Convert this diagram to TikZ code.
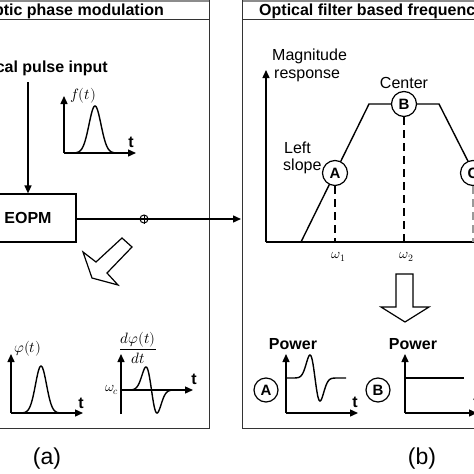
\documentclass[tikz,border=0pt]{standalone}
\usepackage{fontspec}
\usepackage{unicode-math}
\setmainfont{Liberation Sans}
\usetikzlibrary{arrows.meta}
\begin{document}
\begin{tikzpicture}[x=1pt,y=-1pt,
  frame/.style={line width=1pt, draw=black!80},
  ax/.style={line width=1.4pt, -{Triangle[length=8pt,width=7pt]}},
  curve/.style={line width=1.4pt},
  hdr/.style={font=\fontsize{16}{18}\selectfont\bfseries, inner sep=0},
  lbl/.style={font=\fontsize{16}{18}\selectfont, inner sep=0},
  blbl/.style={font=\fontsize{16}{18}\selectfont\bfseries, inner sep=0},
  mlbl/.style={font=\fontsize{15}{17}\selectfont, inner sep=0},
  cl/.style={circle, draw, line width=1.2pt, fill=white, minimum size=25pt, inner sep=0, font=\fontsize{15}{17}\selectfont\bfseries},
  dsh/.style={line width=1.4pt, dash pattern=on 8pt off 5pt},
  hollow/.style={line width=1.2pt, fill=white, line join=miter}
]
\useasboundingbox (0,0) rectangle (474,474);

% frames
\draw[draw=black!45, line width=2pt] (0,1) -- (209,1) (242,1) -- (474,1);
\draw[frame] (0,19) -- (209,19) (209,0) -- (209,428) -- (0,428);
\draw[frame] (474,19) -- (242,19) (242,0) -- (242,428) -- (474,428);

% headers
\node[hdr, anchor=base east] (h1) at (164,15) {ptic phase modulation};
\node[hdr, anchor=base west] (h2) at (259,15) {Optical filter based frequency};

% ---------- left panel ----------
\node[hdr, anchor=base east] (inp) at (108,72) {cal pulse input};
\node[draw, line width=1.2pt, minimum width=96pt, minimum height=48pt, blbl] (eopm) at (28,218) {EOPM};
\coordinate (inpend) at (28,82);
\draw[ax] (inpend) -- (eopm.north);
\coordinate (out) at (241,219);
\draw[ax] (eopm.east |- out) -- (out);
\node[circle, draw, line width=1pt, minimum size=8pt, inner sep=0] (pl) at (144,219) {};
\draw[line width=1pt] (pl.north) -- (pl.south);

% f(t)
\draw[ax] (64,153) -- (64,96);
\draw[ax] (64,153) -- (136,153);
\draw[curve] plot[domain=72:118, samples=60] (\x,{153-47*exp(-0.5*((\x-95)/6)^2)});
\node[mlbl, anchor=west] (ft) at (70,96) {$f(t)$};
\node[blbl] (t1) at (131,142) {t};

% hollow arrow
\draw[hollow] (122,238) -- (132,247) -- (107,273) -- (118,285) -- (92,278) -- (83,252) -- (96,262) -- cycle;

% phi(t)
\draw[ax] (11,413) -- (11,354);
\draw[ax] (11,413) -- (83,413);
\draw[curve] plot[domain=22:60, samples=60] (\x,{413-47*exp(-0.5*((\x-41)/5.5)^2)});
\node[mlbl, anchor=west] (phit) at (14,349) {$\varphi(t)$};
\node[blbl] (t2) at (81,403) {t};

% dphi/dt
\draw[ax] (121,414) -- (121,354);
\draw[ax] (121,390) -- (193,390);
\draw[curve] plot[domain=128:176, samples=80] (\x,{390+38*((\x-151.5)/5.5)*exp(-0.5*((\x-151.5)/5.5)^2)});
\node[font=\fontsize{14}{16}\selectfont, inner sep=0, anchor=east] (wc) at (119,390) {$\omega_c$};
\node[mlbl] (dphi) at (138,348) {$\displaystyle\frac{d\varphi(t)}{dt}$};
\node[blbl] (t3) at (194,379) {t};

\node[font=\fontsize{23}{26}\selectfont, inner sep=0] (la) at (47,459) {(a)};

% ---------- right panel ----------
\draw[ax] (266,242) -- (266,70);
\draw[line width=1.4pt] (266,242) -- (480,242);
\node[lbl, anchor=base west] (mag) at (272,60) {Magnitude};
\node[lbl, anchor=base west] (resp) at (274,78) {response};
\node[lbl, anchor=base] (cen) at (404,88) {Center};
\node[lbl, anchor=base west] (left) at (284,153) {Left};
\node[lbl, anchor=base west] (slope) at (283,170) {slope};

\draw[curve] (301,242) -- (369,104) -- (439,104) -- (509,242);
\coordinate (xa) at (335,242);
\coordinate (xb) at (404,242);
\coordinate (xc) at (473,242);
\node[cl] (ca) at (335,173) {A};
\node[cl] (cb) at (404,104) {B};
\node[cl] (cc) at (473,173) {C};
\draw[dsh] (ca.south) -- (xa);
\draw[dsh] (cb.south) -- (xb);
\draw[dsh, draw=black!40] (cc.south) -- (xc);
\node[font=\fontsize{14}{16}\selectfont, inner sep=0] (w1) at (339,257) {$\omega_1$};
\node[font=\fontsize{14}{16}\selectfont, inner sep=0] (w2) at (407,257) {$\omega_2$};

% hollow down arrow
\draw[hollow] (396,274) -- (413,274) -- (413,307) -- (429,307) -- (405,322) -- (381,307) -- (396,307) -- cycle;

% power A
\node[blbl, anchor=base] (pw1) at (293,349) {Power};
\draw[ax] (286,413) -- (286,354);
\draw[ax] (286,413) -- (358,413);
\draw[curve] plot[domain=286:346, samples=90] (\x,{378+38*((\x-315)/5)*exp(-0.5*((\x-315)/5)^2)});
\node[cl, minimum size=24pt] (pa) at (266,390) {A};
\node[blbl] (t4) at (355,402) {t};

% power B
\node[blbl, anchor=base] (pw2) at (413,349) {Power};
\draw[ax] (405,413) -- (405,354);
\draw[ax] (405,413) -- (477,413);
\draw[curve] (405,378) -- (464,378);
\node[cl, minimum size=24pt] (pb) at (378,390) {B};
\node[blbl] (t5) at (476,402) {t};

\node[font=\fontsize{23}{26}\selectfont, inner sep=0] (lb) at (422,459) {(b)};
\end{tikzpicture}
\end{document}
